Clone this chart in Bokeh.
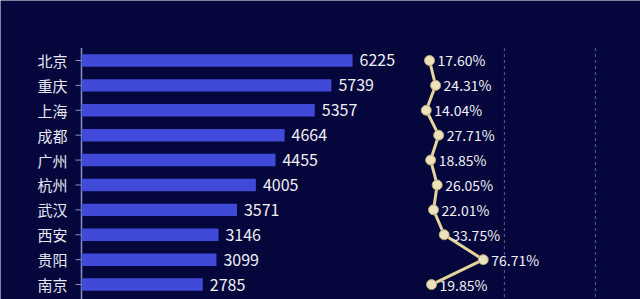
from bokeh.plotting import figure
from bokeh.models import Range1d, ColumnDataSource, LabelSet
from bokeh.embed import file_html
from bokeh.resources import INLINE
from bokeh.core.properties import value

cities = ["北京", "重庆", "上海", "成都", "广州", "杭州", "武汉", "西安", "贵阳", "南京"]
counts = [6225, 5739, 5357, 4664, 4455, 4005, 3571, 3146, 3099, 2785]
growth = [17.60, 24.31, 14.04, 27.71, 18.85, 26.05, 22.01, 33.75, 76.71, 19.85]
growth_labels = ["%.2f%%" % g for g in growth]
count_labels = [str(c) for c in counts]
grid_pcts = [100, 200]

BG = "#04063c"
FONT = "Noto Sans CJK SC"
AXIS_C = "#8a90c0"

idx = list(range(len(cities)))
zeros = [0] * len(cities)
src = ColumnDataSource(dict(y=idx, zero=zeros, counts=counts, growth=growth,
                            city=cities, clab=count_labels, glab=growth_labels))

TOP, BOTTOM = -0.5, 9.6

p = figure(width=640, height=299, output_backend="svg", toolbar_location=None,
           x_range=Range1d(-1860, 12838), y_range=Range1d(BOTTOM, -2.41),
           x_axis_location=None, y_axis_location=None,
           min_border=0,
           background_fill_color=BG, border_fill_color=BG,
           outline_line_color=None)
p.extra_x_ranges = {"pct": Range1d(-454.1, 249.6)}
p.grid.visible = False

# tick marks on the category axis (right half hidden under bars)
p.scatter(x="zero", y="y", source=src, marker="dash", size=12,
          line_color=AXIS_C, line_width=1)

# axis line spanning only the rows
p.segment(x0=[0], y0=[TOP], x1=[0], y1=[BOTTOM], line_color=AXIS_C, line_width=1.5)

# dashed grid lines on the percentage scale
p.segment(x0=grid_pcts, y0=[TOP] * len(grid_pcts), x1=grid_pcts, y1=[BOTTOM] * len(grid_pcts),
          x_range_name="pct", line_color="#4a5090", line_dash="3 3", line_width=1.2)

p.hbar(y="y", left=1, right="counts", height=0.5, source=src,
       fill_color="#4149d9", line_color=None)

# category labels
p.add_layout(LabelSet(x="zero", y="y", text="city", source=src, x_offset=-14,
                      text_align="right", text_baseline="middle",
                      text_font=value(FONT), text_font_size="15px", text_color="#e6e8f2"))

p.add_layout(LabelSet(x="counts", y="y", text="clab", source=src, x_offset=7,
                      text_font=value(FONT), text_font_size="16px", text_color="#f0f0f5",
                      text_baseline="middle"))

p.line(x="growth", y="y", source=src, x_range_name="pct",
       line_color="#e6d49c", line_width=3)
p.scatter(x="growth", y="y", source=src, x_range_name="pct", size=10,
          fill_color="#ece2bc", line_color="#b8a874", line_width=1)

p.add_layout(LabelSet(x="growth", y="y", text="glab", source=src, x_range_name="pct",
                      x_offset=8, text_font=value(FONT), text_font_size="14px",
                      text_color="#f0f0f5", text_baseline="middle"))

html = file_html(p, INLINE)
html = html.replace("<body>", '<body style="background:%s;margin:0">' % BG, 1)
open("out.html", "w").write(html)
